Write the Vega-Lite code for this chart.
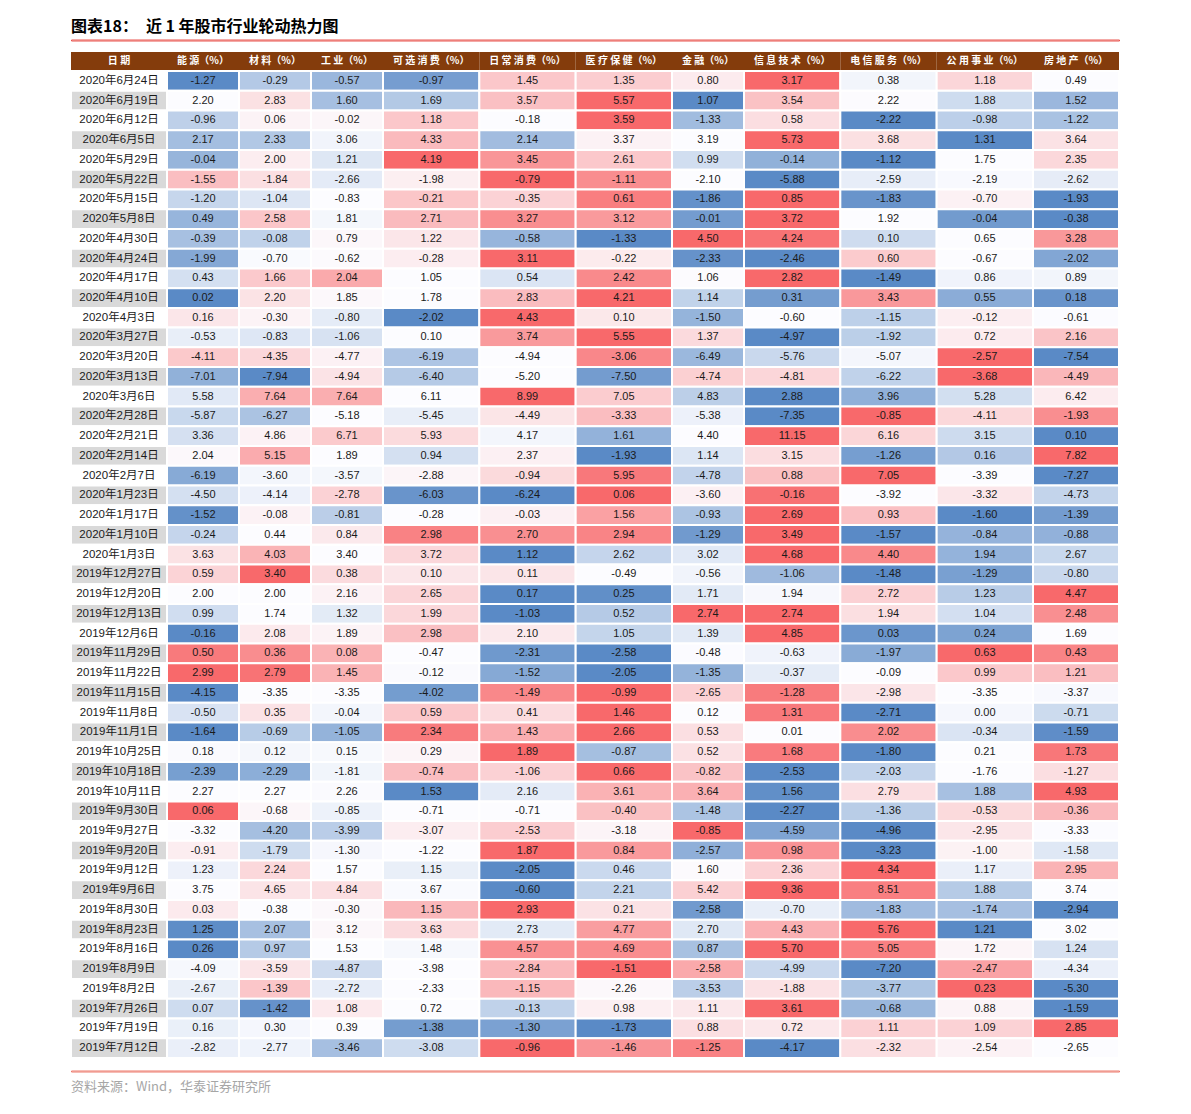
{
  "$schema": "https://vega.github.io/schema/vega-lite/v6.json",
  "padding": {"left": 70, "top": 17.5, "right": 0, "bottom": 0},
  "background": "white",
  "config": {
    "view": {"stroke": null},
    "locale": {"number": {"decimal": ".", "thousands": ",", "grouping": [3], "currency": ["$", ""], "minus": "-"}}
  },
  "datasets": {
    "rows": [
      {"date": "2020年6月24日", "能源": -1.27, "材料": -0.29, "工业": -0.57, "可选消费": -0.97, "日常消费": 1.45, "医疗保健": 1.35, "金融": 0.80, "信息技术": 3.17, "电信服务": 0.38, "公用事业": 1.18, "房地产": 0.49},
      {"date": "2020年6月19日", "能源": 2.20, "材料": 2.83, "工业": 1.60, "可选消费": 1.69, "日常消费": 3.57, "医疗保健": 5.57, "金融": 1.07, "信息技术": 3.54, "电信服务": 2.22, "公用事业": 1.88, "房地产": 1.52},
      {"date": "2020年6月12日", "能源": -0.96, "材料": 0.06, "工业": -0.02, "可选消费": 1.18, "日常消费": -0.18, "医疗保健": 3.59, "金融": -1.33, "信息技术": 0.58, "电信服务": -2.22, "公用事业": -0.98, "房地产": -1.22},
      {"date": "2020年6月5日", "能源": 2.17, "材料": 2.33, "工业": 3.06, "可选消费": 4.33, "日常消费": 2.14, "医疗保健": 3.37, "金融": 3.19, "信息技术": 5.73, "电信服务": 3.68, "公用事业": 1.31, "房地产": 3.64},
      {"date": "2020年5月29日", "能源": -0.04, "材料": 2.00, "工业": 1.21, "可选消费": 4.19, "日常消费": 3.45, "医疗保健": 2.61, "金融": 0.99, "信息技术": -0.14, "电信服务": -1.12, "公用事业": 1.75, "房地产": 2.35},
      {"date": "2020年5月22日", "能源": -1.55, "材料": -1.84, "工业": -2.66, "可选消费": -1.98, "日常消费": -0.79, "医疗保健": -1.11, "金融": -2.10, "信息技术": -5.88, "电信服务": -2.59, "公用事业": -2.19, "房地产": -2.62},
      {"date": "2020年5月15日", "能源": -1.20, "材料": -1.04, "工业": -0.83, "可选消费": -0.21, "日常消费": -0.35, "医疗保健": 0.61, "金融": -1.86, "信息技术": 0.85, "电信服务": -1.83, "公用事业": -0.70, "房地产": -1.93},
      {"date": "2020年5月8日", "能源": 0.49, "材料": 2.58, "工业": 1.81, "可选消费": 2.71, "日常消费": 3.27, "医疗保健": 3.12, "金融": -0.01, "信息技术": 3.72, "电信服务": 1.92, "公用事业": -0.04, "房地产": -0.38},
      {"date": "2020年4月30日", "能源": -0.39, "材料": -0.08, "工业": 0.79, "可选消费": 1.22, "日常消费": -0.58, "医疗保健": -1.33, "金融": 4.50, "信息技术": 4.24, "电信服务": 0.10, "公用事业": 0.65, "房地产": 3.28},
      {"date": "2020年4月24日", "能源": -1.99, "材料": -0.70, "工业": -0.62, "可选消费": -0.28, "日常消费": 3.11, "医疗保健": -0.22, "金融": -2.33, "信息技术": -2.46, "电信服务": 0.60, "公用事业": -0.67, "房地产": -2.02},
      {"date": "2020年4月17日", "能源": 0.43, "材料": 1.66, "工业": 2.04, "可选消费": 1.05, "日常消费": 0.54, "医疗保健": 2.42, "金融": 1.06, "信息技术": 2.82, "电信服务": -1.49, "公用事业": 0.86, "房地产": 0.89},
      {"date": "2020年4月10日", "能源": 0.02, "材料": 2.20, "工业": 1.85, "可选消费": 1.78, "日常消费": 2.83, "医疗保健": 4.21, "金融": 1.14, "信息技术": 0.31, "电信服务": 3.43, "公用事业": 0.55, "房地产": 0.18},
      {"date": "2020年4月3日", "能源": 0.16, "材料": -0.30, "工业": -0.80, "可选消费": -2.02, "日常消费": 4.43, "医疗保健": 0.10, "金融": -1.50, "信息技术": -0.60, "电信服务": -1.15, "公用事业": -0.12, "房地产": -0.61},
      {"date": "2020年3月27日", "能源": -0.53, "材料": -0.83, "工业": -1.06, "可选消费": 0.10, "日常消费": 3.74, "医疗保健": 5.55, "金融": 1.37, "信息技术": -4.97, "电信服务": -1.92, "公用事业": 0.72, "房地产": 2.16},
      {"date": "2020年3月20日", "能源": -4.11, "材料": -4.35, "工业": -4.77, "可选消费": -6.19, "日常消费": -4.94, "医疗保健": -3.06, "金融": -6.49, "信息技术": -5.76, "电信服务": -5.07, "公用事业": -2.57, "房地产": -7.54},
      {"date": "2020年3月13日", "能源": -7.01, "材料": -7.94, "工业": -4.94, "可选消费": -6.40, "日常消费": -5.20, "医疗保健": -7.50, "金融": -4.74, "信息技术": -4.81, "电信服务": -6.22, "公用事业": -3.68, "房地产": -4.49},
      {"date": "2020年3月6日", "能源": 5.58, "材料": 7.64, "工业": 7.64, "可选消费": 6.11, "日常消费": 8.99, "医疗保健": 7.05, "金融": 4.83, "信息技术": 2.88, "电信服务": 3.96, "公用事业": 5.28, "房地产": 6.42},
      {"date": "2020年2月28日", "能源": -5.87, "材料": -6.27, "工业": -5.18, "可选消费": -5.45, "日常消费": -4.49, "医疗保健": -3.33, "金融": -5.38, "信息技术": -7.35, "电信服务": -0.85, "公用事业": -4.11, "房地产": -1.93},
      {"date": "2020年2月21日", "能源": 3.36, "材料": 4.86, "工业": 6.71, "可选消费": 5.93, "日常消费": 4.17, "医疗保健": 1.61, "金融": 4.40, "信息技术": 11.15, "电信服务": 6.16, "公用事业": 3.15, "房地产": 0.10},
      {"date": "2020年2月14日", "能源": 2.04, "材料": 5.15, "工业": 1.89, "可选消费": 0.94, "日常消费": 2.37, "医疗保健": -1.93, "金融": 1.14, "信息技术": 3.15, "电信服务": -1.26, "公用事业": 0.16, "房地产": 7.82},
      {"date": "2020年2月7日", "能源": -6.19, "材料": -3.60, "工业": -3.57, "可选消费": -2.88, "日常消费": -0.94, "医疗保健": 5.95, "金融": -4.78, "信息技术": 0.88, "电信服务": 7.05, "公用事业": -3.39, "房地产": -7.27},
      {"date": "2020年1月23日", "能源": -4.50, "材料": -4.14, "工业": -2.78, "可选消费": -6.03, "日常消费": -6.24, "医疗保健": 0.06, "金融": -3.60, "信息技术": -0.16, "电信服务": -3.92, "公用事业": -3.32, "房地产": -4.73},
      {"date": "2020年1月17日", "能源": -1.52, "材料": -0.08, "工业": -0.81, "可选消费": -0.28, "日常消费": -0.03, "医疗保健": 1.56, "金融": -0.93, "信息技术": 2.69, "电信服务": 0.93, "公用事业": -1.60, "房地产": -1.39},
      {"date": "2020年1月10日", "能源": -0.24, "材料": 0.44, "工业": 0.84, "可选消费": 2.98, "日常消费": 2.70, "医疗保健": 2.94, "金融": -1.29, "信息技术": 3.49, "电信服务": -1.57, "公用事业": -0.84, "房地产": -0.88},
      {"date": "2020年1月3日", "能源": 3.63, "材料": 4.03, "工业": 3.40, "可选消费": 3.72, "日常消费": 1.12, "医疗保健": 2.62, "金融": 3.02, "信息技术": 4.68, "电信服务": 4.40, "公用事业": 1.94, "房地产": 2.67},
      {"date": "2019年12月27日", "能源": 0.59, "材料": 3.40, "工业": 0.38, "可选消费": 0.10, "日常消费": 0.11, "医疗保健": -0.49, "金融": -0.56, "信息技术": -1.06, "电信服务": -1.48, "公用事业": -1.29, "房地产": -0.80},
      {"date": "2019年12月20日", "能源": 2.00, "材料": 2.00, "工业": 2.16, "可选消费": 2.65, "日常消费": 0.17, "医疗保健": 0.25, "金融": 1.71, "信息技术": 1.94, "电信服务": 2.72, "公用事业": 1.23, "房地产": 4.47},
      {"date": "2019年12月13日", "能源": 0.99, "材料": 1.74, "工业": 1.32, "可选消费": 1.99, "日常消费": -1.03, "医疗保健": 0.52, "金融": 2.74, "信息技术": 2.74, "电信服务": 1.94, "公用事业": 1.04, "房地产": 2.48},
      {"date": "2019年12月6日", "能源": -0.16, "材料": 2.08, "工业": 1.89, "可选消费": 2.98, "日常消费": 2.10, "医疗保健": 1.05, "金融": 1.39, "信息技术": 4.85, "电信服务": 0.03, "公用事业": 0.24, "房地产": 1.69},
      {"date": "2019年11月29日", "能源": 0.50, "材料": 0.36, "工业": 0.08, "可选消费": -0.47, "日常消费": -2.31, "医疗保健": -2.58, "金融": -0.48, "信息技术": -0.63, "电信服务": -1.97, "公用事业": 0.63, "房地产": 0.43},
      {"date": "2019年11月22日", "能源": 2.99, "材料": 2.79, "工业": 1.45, "可选消费": -0.12, "日常消费": -1.52, "医疗保健": -2.05, "金融": -1.35, "信息技术": -0.37, "电信服务": -0.09, "公用事业": 0.99, "房地产": 1.21},
      {"date": "2019年11月15日", "能源": -4.15, "材料": -3.35, "工业": -3.35, "可选消费": -4.02, "日常消费": -1.49, "医疗保健": -0.99, "金融": -2.65, "信息技术": -1.28, "电信服务": -2.98, "公用事业": -3.35, "房地产": -3.37},
      {"date": "2019年11月8日", "能源": -0.50, "材料": 0.35, "工业": -0.04, "可选消费": 0.59, "日常消费": 0.41, "医疗保健": 1.46, "金融": 0.12, "信息技术": 1.31, "电信服务": -2.71, "公用事业": 0.00, "房地产": -0.71},
      {"date": "2019年11月1日", "能源": -1.64, "材料": -0.69, "工业": -1.05, "可选消费": 2.34, "日常消费": 1.43, "医疗保健": 2.66, "金融": 0.53, "信息技术": 0.01, "电信服务": 2.02, "公用事业": -0.34, "房地产": -1.59},
      {"date": "2019年10月25日", "能源": 0.18, "材料": 0.12, "工业": 0.15, "可选消费": 0.29, "日常消费": 1.89, "医疗保健": -0.87, "金融": 0.52, "信息技术": 1.68, "电信服务": -1.80, "公用事业": 0.21, "房地产": 1.73},
      {"date": "2019年10月18日", "能源": -2.39, "材料": -2.29, "工业": -1.81, "可选消费": -0.74, "日常消费": -1.06, "医疗保健": 0.66, "金融": -0.82, "信息技术": -2.53, "电信服务": -2.03, "公用事业": -1.76, "房地产": -1.27},
      {"date": "2019年10月11日", "能源": 2.27, "材料": 2.27, "工业": 2.26, "可选消费": 1.53, "日常消费": 2.16, "医疗保健": 3.61, "金融": 3.64, "信息技术": 1.56, "电信服务": 2.79, "公用事业": 1.88, "房地产": 4.93},
      {"date": "2019年9月30日", "能源": 0.06, "材料": -0.68, "工业": -0.85, "可选消费": -0.71, "日常消费": -0.71, "医疗保健": -0.40, "金融": -1.48, "信息技术": -2.27, "电信服务": -1.36, "公用事业": -0.53, "房地产": -0.36},
      {"date": "2019年9月27日", "能源": -3.32, "材料": -4.20, "工业": -3.99, "可选消费": -3.07, "日常消费": -2.53, "医疗保健": -3.18, "金融": -0.85, "信息技术": -4.59, "电信服务": -4.96, "公用事业": -2.95, "房地产": -3.33},
      {"date": "2019年9月20日", "能源": -0.91, "材料": -1.79, "工业": -1.30, "可选消费": -1.22, "日常消费": 1.87, "医疗保健": 0.84, "金融": -2.57, "信息技术": 0.98, "电信服务": -3.23, "公用事业": -1.00, "房地产": -1.58},
      {"date": "2019年9月12日", "能源": 1.23, "材料": 2.24, "工业": 1.57, "可选消费": 1.15, "日常消费": -2.05, "医疗保健": 0.46, "金融": 1.60, "信息技术": 2.36, "电信服务": 4.34, "公用事业": 1.17, "房地产": 2.95},
      {"date": "2019年9月6日", "能源": 3.75, "材料": 4.65, "工业": 4.84, "可选消费": 3.67, "日常消费": -0.60, "医疗保健": 2.21, "金融": 5.42, "信息技术": 9.36, "电信服务": 8.51, "公用事业": 1.88, "房地产": 3.74},
      {"date": "2019年8月30日", "能源": 0.03, "材料": -0.38, "工业": -0.30, "可选消费": 1.15, "日常消费": 2.93, "医疗保健": 0.21, "金融": -2.58, "信息技术": -0.70, "电信服务": -1.83, "公用事业": -1.74, "房地产": -2.94},
      {"date": "2019年8月23日", "能源": 1.25, "材料": 2.07, "工业": 3.12, "可选消费": 3.63, "日常消费": 2.73, "医疗保健": 4.77, "金融": 2.70, "信息技术": 4.43, "电信服务": 5.76, "公用事业": 1.21, "房地产": 3.02},
      {"date": "2019年8月16日", "能源": 0.26, "材料": 0.97, "工业": 1.53, "可选消费": 1.48, "日常消费": 4.57, "医疗保健": 4.69, "金融": 0.87, "信息技术": 5.70, "电信服务": 5.05, "公用事业": 1.72, "房地产": 1.24},
      {"date": "2019年8月9日", "能源": -4.09, "材料": -3.59, "工业": -4.87, "可选消费": -3.98, "日常消费": -2.84, "医疗保健": -1.51, "金融": -2.58, "信息技术": -4.99, "电信服务": -7.20, "公用事业": -2.47, "房地产": -4.34},
      {"date": "2019年8月2日", "能源": -2.67, "材料": -1.39, "工业": -2.72, "可选消费": -2.33, "日常消费": -1.15, "医疗保健": -2.26, "金融": -3.53, "信息技术": -1.88, "电信服务": -3.77, "公用事业": 0.23, "房地产": -5.30},
      {"date": "2019年7月26日", "能源": 0.07, "材料": -1.42, "工业": 1.08, "可选消费": 0.72, "日常消费": -0.13, "医疗保健": 0.98, "金融": 1.11, "信息技术": 3.61, "电信服务": -0.68, "公用事业": 0.88, "房地产": -1.59},
      {"date": "2019年7月19日", "能源": 0.16, "材料": 0.30, "工业": 0.39, "可选消费": -1.38, "日常消费": -1.30, "医疗保健": -1.73, "金融": 0.88, "信息技术": 0.72, "电信服务": 1.11, "公用事业": 1.09, "房地产": 2.85},
      {"date": "2019年7月12日", "能源": -2.82, "材料": -2.77, "工业": -3.46, "可选消费": -3.08, "日常消费": -0.96, "医疗保健": -1.46, "金融": -1.25, "信息技术": -4.17, "电信服务": -2.32, "公用事业": -2.54, "房地产": -2.65}
    ]
  },
  "spacing": 10.5,
  "vconcat": [
    {
      "width": 1048,
      "height": 1,
      "view": {"stroke": "#E8544E", "strokeWidth": 1},
      "title": {"text": "图表18：　近 1 年股市行业轮动热力图", "anchor": "start", "frame": "group", "fontSize": 16, "fontWeight": "bold", "font": "Noto Sans CJK SC", "color": "#000000", "offset": 5},
      "data": {"values": [{"a": 1}]},
      "mark": {"type": "rect", "opacity": 0}
    },
    {
      "spacing": 0,
      "vconcat": [
        {
          "spacing": 0,
          "bounds": "flush",
          "hconcat": [
            {
              "width": 96, "height": 18,
              "data": {"values": [{"h": "日  期"}]},
              "encoding": {"x": {"field": "h", "type": "nominal", "sort": null, "axis": null}},
              "layer": [
                {"mark": {"type": "rect", "fill": "#843C0C"}},
                {"mark": {"type": "text", "color": "white", "fontWeight": "bold", "fontSize": 10, "font": "Noto Sans CJK SC"}, "encoding": {"text": {"field": "h"}}}
              ]
            },
            {
              "width": 216, "height": 18,
              "data": {"values": [{"h": "能 源（%）"}, {"h": "材 料（%）"}, {"h": "工 业（%）"}]},
              "encoding": {"x": {"field": "h", "type": "nominal", "sort": null, "axis": null}},
              "layer": [
                {"mark": {"type": "rect", "fill": "#843C0C"}},
                {"mark": {"type": "text", "color": "white", "fontWeight": "bold", "fontSize": 10, "font": "Noto Sans CJK SC"}, "encoding": {"text": {"field": "h"}}}
              ]
            },
            {
              "width": 289, "height": 18,
              "data": {"values": [{"h": "可 选 消 费（%）"}, {"h": "日 常 消 费（%）"}, {"h": "医 疗 保 健（%）"}]},
              "encoding": {"x": {"field": "h", "type": "nominal", "sort": null, "axis": null}},
              "layer": [
                {"mark": {"type": "rect", "fill": "#843C0C"}},
                {"mark": {"type": "text", "color": "white", "fontWeight": "bold", "fontSize": 10, "font": "Noto Sans CJK SC"}, "encoding": {"text": {"field": "h"}}}
              ]
            },
            {
              "width": 72, "height": 18,
              "data": {"values": [{"h": "金 融（%）"}]},
              "encoding": {"x": {"field": "h", "type": "nominal", "sort": null, "axis": null}},
              "layer": [
                {"mark": {"type": "rect", "fill": "#843C0C"}},
                {"mark": {"type": "text", "color": "white", "fontWeight": "bold", "fontSize": 10, "font": "Noto Sans CJK SC"}, "encoding": {"text": {"field": "h"}}}
              ]
            },
            {
              "width": 289, "height": 18,
              "data": {"values": [{"h": "信 息 技 术（%）"}, {"h": "电 信 服 务（%）"}, {"h": "公 用 事 业（%）"}]},
              "encoding": {"x": {"field": "h", "type": "nominal", "sort": null, "axis": null}},
              "layer": [
                {"mark": {"type": "rect", "fill": "#843C0C"}},
                {"mark": {"type": "text", "color": "white", "fontWeight": "bold", "fontSize": 10, "font": "Noto Sans CJK SC"}, "encoding": {"text": {"field": "h"}}}
              ]
            },
            {
              "width": 86, "height": 18,
              "data": {"values": [{"h": "房 地 产（%）"}]},
              "encoding": {"x": {"field": "h", "type": "nominal", "sort": null, "axis": null}},
              "layer": [
                {"mark": {"type": "rect", "fill": "#843C0C"}},
                {"mark": {"type": "text", "color": "white", "fontWeight": "bold", "fontSize": 10, "font": "Noto Sans CJK SC"}, "encoding": {"text": {"field": "h"}}}
              ]
            }
          ]
        },
        {
          "spacing": 0,
          "bounds": "flush",
          "hconcat": [
            {
              "width": 96, "height": 987,
              "data": {"name": "rows"},
              "transform": [{"window": [{"op": "row_number", "as": "rn"}]}],
              "encoding": {"y": {"field": "date", "type": "nominal", "sort": null, "axis": null}},
              "layer": [
                {"mark": {"type": "rect", "stroke": "white", "strokeWidth": 2},
                 "encoding": {"fill": {"condition": {"test": "datum.rn % 2 === 0", "value": "#D9D9D9"}, "value": "#FFFFFF"}}},
                {"mark": {"type": "text", "fontSize": 11.5, "font": "Liberation Sans, Noto Sans CJK SC", "color": "#1A1A1A"}, "encoding": {"text": {"field": "date"}}}
              ]
            },
            {
              "width": 216, "height": 987,
              "data": {"name": "rows"},
              "transform": [
                {"fold": ["能源", "材料", "工业", "可选消费", "日常消费", "医疗保健", "金融", "信息技术", "电信服务", "公用事业", "房地产"], "as": ["ind", "v"]},
                {"joinaggregate": [{"op": "min", "field": "v", "as": "lo"}, {"op": "max", "field": "v", "as": "hi"}, {"op": "median", "field": "v", "as": "md"}], "groupby": ["date"]},
                {"calculate": "datum.v >= datum.md ? (datum.hi > datum.md ? (datum.v - datum.md) / (datum.hi - datum.md) : 0) : (datum.v - datum.md) / (datum.md - datum.lo)", "as": "t"},
                {"filter": {"field": "ind", "oneOf": ["能源", "材料", "工业"]}}
              ],
              "encoding": {
                "x": {"field": "ind", "type": "nominal", "scale": {"domain": ["能源", "材料", "工业"]}, "axis": null},
                "y": {"field": "date", "type": "nominal", "sort": null, "axis": null}
              },
              "layer": [
                {"mark": {"type": "rect", "stroke": "white", "strokeWidth": 2},
                 "encoding": {"color": {"field": "t", "type": "quantitative", "scale": {"domain": [-1, 0, 1], "range": ["#5A8AC6", "#FCFCFF", "#F8696B"], "interpolate": "rgb"}, "legend": null}}},
                {"mark": {"type": "text", "fontSize": 11, "font": "Liberation Sans", "color": "#1A1A1A"}, "encoding": {"text": {"field": "v", "type": "quantitative", "format": ".2f"}}}
              ]
            },
            {
              "width": 289, "height": 987,
              "data": {"name": "rows"},
              "transform": [
                {"fold": ["能源", "材料", "工业", "可选消费", "日常消费", "医疗保健", "金融", "信息技术", "电信服务", "公用事业", "房地产"], "as": ["ind", "v"]},
                {"joinaggregate": [{"op": "min", "field": "v", "as": "lo"}, {"op": "max", "field": "v", "as": "hi"}, {"op": "median", "field": "v", "as": "md"}], "groupby": ["date"]},
                {"calculate": "datum.v >= datum.md ? (datum.hi > datum.md ? (datum.v - datum.md) / (datum.hi - datum.md) : 0) : (datum.v - datum.md) / (datum.md - datum.lo)", "as": "t"},
                {"filter": {"field": "ind", "oneOf": ["可选消费", "日常消费", "医疗保健"]}}
              ],
              "encoding": {
                "x": {"field": "ind", "type": "nominal", "scale": {"domain": ["可选消费", "日常消费", "医疗保健"]}, "axis": null},
                "y": {"field": "date", "type": "nominal", "sort": null, "axis": null}
              },
              "layer": [
                {"mark": {"type": "rect", "stroke": "white", "strokeWidth": 2},
                 "encoding": {"color": {"field": "t", "type": "quantitative", "scale": {"domain": [-1, 0, 1], "range": ["#5A8AC6", "#FCFCFF", "#F8696B"], "interpolate": "rgb"}, "legend": null}}},
                {"mark": {"type": "text", "fontSize": 11, "font": "Liberation Sans", "color": "#1A1A1A"}, "encoding": {"text": {"field": "v", "type": "quantitative", "format": ".2f"}}}
              ]
            },
            {
              "width": 72, "height": 987,
              "data": {"name": "rows"},
              "transform": [
                {"fold": ["能源", "材料", "工业", "可选消费", "日常消费", "医疗保健", "金融", "信息技术", "电信服务", "公用事业", "房地产"], "as": ["ind", "v"]},
                {"joinaggregate": [{"op": "min", "field": "v", "as": "lo"}, {"op": "max", "field": "v", "as": "hi"}, {"op": "median", "field": "v", "as": "md"}], "groupby": ["date"]},
                {"calculate": "datum.v >= datum.md ? (datum.hi > datum.md ? (datum.v - datum.md) / (datum.hi - datum.md) : 0) : (datum.v - datum.md) / (datum.md - datum.lo)", "as": "t"},
                {"filter": {"field": "ind", "oneOf": ["金融"]}}
              ],
              "encoding": {
                "x": {"field": "ind", "type": "nominal", "scale": {"domain": ["金融"]}, "axis": null},
                "y": {"field": "date", "type": "nominal", "sort": null, "axis": null}
              },
              "layer": [
                {"mark": {"type": "rect", "stroke": "white", "strokeWidth": 2},
                 "encoding": {"color": {"field": "t", "type": "quantitative", "scale": {"domain": [-1, 0, 1], "range": ["#5A8AC6", "#FCFCFF", "#F8696B"], "interpolate": "rgb"}, "legend": null}}},
                {"mark": {"type": "text", "fontSize": 11, "font": "Liberation Sans", "color": "#1A1A1A"}, "encoding": {"text": {"field": "v", "type": "quantitative", "format": ".2f"}}}
              ]
            },
            {
              "width": 289, "height": 987,
              "data": {"name": "rows"},
              "transform": [
                {"fold": ["能源", "材料", "工业", "可选消费", "日常消费", "医疗保健", "金融", "信息技术", "电信服务", "公用事业", "房地产"], "as": ["ind", "v"]},
                {"joinaggregate": [{"op": "min", "field": "v", "as": "lo"}, {"op": "max", "field": "v", "as": "hi"}, {"op": "median", "field": "v", "as": "md"}], "groupby": ["date"]},
                {"calculate": "datum.v >= datum.md ? (datum.hi > datum.md ? (datum.v - datum.md) / (datum.hi - datum.md) : 0) : (datum.v - datum.md) / (datum.md - datum.lo)", "as": "t"},
                {"filter": {"field": "ind", "oneOf": ["信息技术", "电信服务", "公用事业"]}}
              ],
              "encoding": {
                "x": {"field": "ind", "type": "nominal", "scale": {"domain": ["信息技术", "电信服务", "公用事业"]}, "axis": null},
                "y": {"field": "date", "type": "nominal", "sort": null, "axis": null}
              },
              "layer": [
                {"mark": {"type": "rect", "stroke": "white", "strokeWidth": 2},
                 "encoding": {"color": {"field": "t", "type": "quantitative", "scale": {"domain": [-1, 0, 1], "range": ["#5A8AC6", "#FCFCFF", "#F8696B"], "interpolate": "rgb"}, "legend": null}}},
                {"mark": {"type": "text", "fontSize": 11, "font": "Liberation Sans", "color": "#1A1A1A"}, "encoding": {"text": {"field": "v", "type": "quantitative", "format": ".2f"}}}
              ]
            },
            {
              "width": 86, "height": 987,
              "data": {"name": "rows"},
              "transform": [
                {"fold": ["能源", "材料", "工业", "可选消费", "日常消费", "医疗保健", "金融", "信息技术", "电信服务", "公用事业", "房地产"], "as": ["ind", "v"]},
                {"joinaggregate": [{"op": "min", "field": "v", "as": "lo"}, {"op": "max", "field": "v", "as": "hi"}, {"op": "median", "field": "v", "as": "md"}], "groupby": ["date"]},
                {"calculate": "datum.v >= datum.md ? (datum.hi > datum.md ? (datum.v - datum.md) / (datum.hi - datum.md) : 0) : (datum.v - datum.md) / (datum.md - datum.lo)", "as": "t"},
                {"filter": {"field": "ind", "oneOf": ["房地产"]}}
              ],
              "encoding": {
                "x": {"field": "ind", "type": "nominal", "scale": {"domain": ["房地产"]}, "axis": null},
                "y": {"field": "date", "type": "nominal", "sort": null, "axis": null}
              },
              "layer": [
                {"mark": {"type": "rect", "stroke": "white", "strokeWidth": 2},
                 "encoding": {"color": {"field": "t", "type": "quantitative", "scale": {"domain": [-1, 0, 1], "range": ["#5A8AC6", "#FCFCFF", "#F8696B"], "interpolate": "rgb"}, "legend": null}}},
                {"mark": {"type": "text", "fontSize": 11, "font": "Liberation Sans", "color": "#1A1A1A"}, "encoding": {"text": {"field": "v", "type": "quantitative", "format": ".2f"}}}
              ]
            }
          ]
        }
      ]
    },
    {
      "width": 1048,
      "height": 1,
      "view": {"stroke": "#EC7A6C", "strokeWidth": 1},
      "title": {"text": "资料来源：Wind，华泰证券研究所", "orient": "bottom", "anchor": "start", "frame": "group", "fontSize": 13, "fontWeight": "normal", "font": "Noto Sans CJK SC", "color": "#A6A6A6", "offset": 9},
      "data": {"values": [{"a": 1}]},
      "mark": {"type": "rect", "opacity": 0}
    }
  ]
}
